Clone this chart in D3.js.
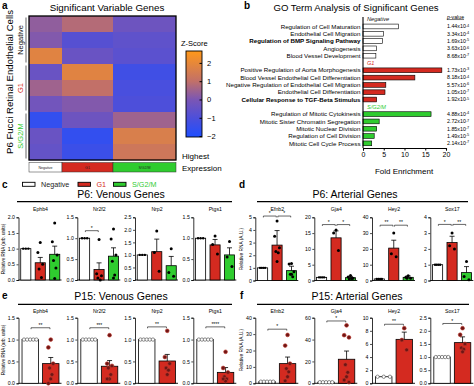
<!DOCTYPE html>
<html>
<head>
<meta charset="utf-8">
<script src="https://cdn.jsdelivr.net/npm/d3@7"></script>
<style>
  body { margin: 0; background: #fff; }
  svg { display: block; font-family: "Liberation Sans", Arial, sans-serif; }
</style>
</head>
<body>
<svg id="fig" width="474" height="386"></svg>
<script>
// ------------------------------------------------------------
// Data
// ------------------------------------------------------------
const cellGroups = ["Negative", "G1", "S/G2/M"];
const groupColors = { "Negative": "#ffffff", "G1": "#d42a20", "S/G2/M": "#2fcc2f" };
const groupText = { "Negative": "#111", "G1": "#d42a20", "S/G2/M": "#2fcc2f" };

// heatmap: 9 gene clusters (rows) x 3 cell groups (cols), z-scores
const heatRowGroup = ["Negative", "Negative", "Negative", "G1", "G1", "G1", "S/G2/M", "S/G2/M", "S/G2/M"];
const heatZ = [
  [0.3, 0.8, -0.3],
  [0.1, -0.8, -0.6],
  [1.8, -0.4, -0.7],
  [-0.4, 1.8, -1.3],
  [0.5, 1.0, -1.1],
  [-0.2, 0.1, -1.0],
  [-1.6, -0.3, 0.5],
  [-0.4, -1.6, 1.6],
  [-0.5, -1.4, 1.3]
];
const zTicks = [2, 1, 0, -1, -2];

// GO term analysis
const goTerms = [
  "Regulation of Cell Maturation", "Endothelial Cell Migration", "Regulation of BMP Signaling Pathway",
  "Angiogenesis", "Blood Vessel Development",
  "Positive Regulation of Aorta Morphogenesis", "Blood Vessel Endothelial Cell Differentiation",
  "Negative Regulation of Endothelial Cell Migration", "Endothelial Cell Differentiation",
  "Cellular Response to TGF-Beta Stimulus",
  "Regulation of Mitotic Cytokinesis", "Mitotic Sister Chromatin Segregation", "Mitotic Nuclear Division",
  "Regulation of Cell Division", "Mitotic Cell Cycle Process"
];
const goGroup = ["Negative", "Negative", "Negative", "Negative", "Negative", "G1", "G1", "G1", "G1", "G1",
  "S/G2/M", "S/G2/M", "S/G2/M", "S/G2/M", "S/G2/M"];
const goBold = ["Regulation of BMP Signaling Pathway", "Cellular Response to TGF-Beta Stimulus"];
const goFold = [8.6, 4.9, 4.7, 3.3, 3.1, 19.0, 12.5, 5.5, 5.3, 3.3, 16.4, 3.9, 3.3, 2.7, 2.1];
const goPMant = ["1.44", "3.34", "1.69", "3.63", "8.68", "1.73", "8.18", "5.57", "1.05", "1.92", "4.88", "2.72", "1.85", "1.49", "2.14"];
const goPExp = ["-4", "-4", "-5", "-6", "-7", "-3", "-4", "-6", "-7", "-5", "-4", "-7", "-7", "-5", "-7"];
const foldTicks = [0, 5, 10, 15, 20];

// qPCR panels
const venousGenes = ["Ephb4", "Nr2f2", "Nrp2", "Ptgs1"];
const arterialGenes = ["Efnb2", "Gja4", "Hey2", "Sox17"];

const p6VenousMax = [2.0, 1.5, 2.5, 1.5];
const p6VenousMean = [[1, 0.55, 0.82], [1, 0.25, 0.57], [1, 1.13, 0.57], [1, 0.84, 0.6]];
const p6VenousSem = [[0, 0.17, 0.26], [0, 0.16, 0.2], [0, 0.5, 0.37], [0, 0.13, 0.17]];
const p6VenousDots = [
  [[1, 1, 1], [1.2, 0.88, 0.5, 0.35, 0.08], [1.82, 1.22, 0.8, 0.62, 0.38, 0.05]],
  [[1, 1, 1], [0.97, 0.15, 0.1, 0.05, 0.0], [1.22, 0.98, 0.6, 0.45, 0.12, 0.05]],
  [[1, 1, 1], [1.95, 1.1, 0.35], [1.25, 0.3, 0.15]],
  [[1, 1, 1], [1.05, 0.85, 0.62], [0.92, 0.55, 0.32]]
];
const p6VenousSig = [[], [[0, 1, "*", 1.18]], [], []];

const p6ArterialMax = [5, 20, 40, 4];
const p6ArterialStep = [1, 5, 10, 1];
const p6ArterialMean = [[1, 2.8, 0.78], [1, 13.5, 0.9], [1, 20.5, 2.0], [1, 2.4, 0.5]];
const p6ArterialSem = [[0, 1.15, 0.35], [0, 2.2, 0.4], [0, 5.0, 0.9], [0, 0.4, 0.38]];
const p6ArterialDots = [
  [[1, 1, 1, 1], [4.7, 3.5, 2.6, 2.3, 2.2, 1.5], [1.35, 1.3, 0.7, 0.5, 0.3, 0.5]],
  [[1, 1, 1, 1], [16, 15, 9.5], [1.6, 1.1, 0.7, 0.5, 0.6]],
  [[1, 1, 1, 1], [30, 17, 15], [3, 2, 1.5, 1.5]],
  [[1, 1, 1, 1], [3.0, 2.2, 2.0], [1.2, 0.25, 0.05]]
];
const p6ArterialSig = [
  [[0, 1, "*", 5.1], [1, 2, "*", 5.1]],
  [[0, 1, "*", 17.7], [1, 2, "*", 17.7]],
  [[0, 1, "**", 35], [1, 2, "**", 35]],
  [[0, 1, "*", 3.55], [1, 2, "**", 3.55]]
];

const p15VenousMax = [1.5, 1.5, 1.5, 1.5];
const p15VenousMean = [[1, 0.45], [1, 0.39], [1, 0.51], [1, 0.25]];
const p15VenousSem = [[0, 0.14], [0, 0.13], [0, 0.15], [0, 0.11]];
const p15VenousDots = [
  [[1, 1, 1, 1, 1], [1.0, 0.82, 0.45, 0.35, 0.2, 0.1, 0.0]],
  [[1, 1, 1, 1, 1], [1.1, 0.45, 0.4, 0.35, 0.2, 0.1, 0.1]],
  [[1, 1, 1, 1, 1], [1.2, 0.6, 0.45, 0.35, 0.3, 0.2]],
  [[1, 1, 1, 1, 1], [0.72, 0.35, 0.25, 0.15, 0.1, 0.05, 0.1]]
];
const p15VenousSig = [[[0, 1, "**", 1.27]], [[0, 1, "***", 1.27]], [[0, 1, "**", 1.29]], [[0, 1, "****", 1.29]]];

const p15ArterialMax = [40, 60, 10, 2.5];
const p15ArterialStep = [10, 20, 2, 0.5];
const p15ArterialMean = [[1, 12], [1, 22], [1, 6.7], [1, 1.55]];
const p15ArterialSem = [[0, 4], [0, 7.5], [0, 1.1], [0, 0.22]];
const p15ArterialDots = [
  [[1, 1, 1, 1, 1], [29.5, 23, 12, 9, 7, 4, 1.5]],
  [[1, 1, 1, 1, 1], [53, 44, 42, 17, 10, 6, 3, 1]],
  [[1, 1, 1], [8.4, 6.6, 5.1]],
  [[1, 1, 1, 1, 1], [2.1, 1.85, 1.5, 1.35, 1.3, 1.2]]
];
const p15ArterialSig = [[[0, 1, "*", 33]], [[0, 1, "*", 57]], [[0, 1, "**", 9]], [[0, 1, "*", 2.28]]];

// ------------------------------------------------------------
// Setup
// ------------------------------------------------------------
const svg = d3.select("#fig");

function panelLetter(x, y, t) {
  svg.append("text").attr("x", x).attr("y", y).attr("font-size", 10)
    .attr("font-weight", "bold").text(t);
}

// ------------------------------------------------------------
// Panel a: heatmap
// ------------------------------------------------------------
panelLetter(2, 9, "a");
svg.append("text").attr("x", 107).attr("y", 11).attr("text-anchor", "middle")
  .attr("font-size", 9.8).text("Significant Variable Genes");

const zColor = d3.scaleLinear()
  .domain([-2.05, -1, 0, 1, 2.65])
  .range(["#1f4fff", "#4d4fda", "#7b56b4", "#c27068", "#ff981a"]);

// column widths like the original (Negative narrower)
const colEdges = { "Negative": [29, 62], "G1": [62, 113], "S/G2/M": [113, 176] };
const hy = d3.scaleBand().domain(d3.range(heatZ.length)).range([16, 160]);

const heat = svg.append("g");
heatZ.forEach((row, r) => {
  row.forEach((z, c) => {
    const [x0, x1] = colEdges[cellGroups[c]];
    heat.append("rect")
      .attr("x", x0).attr("y", hy(r))
      .attr("width", x1 - x0).attr("height", hy.bandwidth() + 0.3)
      .attr("fill", zColor(z));
  });
});
heat.append("rect").attr("x", 29).attr("y", 16).attr("width", 147).attr("height", 144)
  .attr("fill", "none").attr("stroke", "#000").attr("stroke-width", 1.3);

// cell group strip below heatmap
cellGroups.forEach(gname => {
  const [x0, x1] = colEdges[gname];
  svg.append("rect").attr("x", x0).attr("y", 162.5).attr("width", x1 - x0).attr("height", 9.5)
    .attr("fill", groupColors[gname]).attr("stroke", "#333").attr("stroke-width", 0.5);
  svg.append("text").attr("x", (x0 + x1) / 2).attr("y", 168.7).attr("text-anchor", "middle")
    .attr("font-size", 3.6).attr("fill", "#222").text(gname);
});

// row group labels and brackets
const rowGroupSpan = d3.rollup(heatRowGroup.map((g, i) => ({ g, i })), v => [d3.min(v, d => d.i), d3.max(v, d => d.i)], d => d.g);
rowGroupSpan.forEach(([i0, i1], gname) => {
  const y0 = hy(i0) + 1.5, y1 = hy(i1) + hy.bandwidth() - 1.5;
  svg.append("line").attr("x1", 26).attr("x2", 26).attr("y1", y0).attr("y2", y1)
    .attr("stroke", "#222").attr("stroke-width", 0.7);
  svg.append("text").attr("transform", `translate(23,${(y0 + y1) / 2}) rotate(-90)`)
    .attr("text-anchor", "middle").attr("font-size", 7.5).attr("fill", groupText[gname]).text(gname);
});
svg.append("text").attr("transform", "translate(13,82) rotate(-90)")
  .attr("text-anchor", "middle").attr("font-size", 9.6).text("P6 Fucci Retinal Endothelial Cells");

// colour bar
const zy = d3.scaleLinear().domain([-2.05, 2.65]).range([137, 51]);
const defs = svg.append("defs");
const grad = defs.append("linearGradient").attr("id", "zgrad")
  .attr("x1", 0).attr("y1", 1).attr("x2", 0).attr("y2", 0);
zColor.domain().forEach(v => {
  grad.append("stop").attr("offset", (v + 2.05) / 4.7).attr("stop-color", zColor(v));
});
svg.append("rect").attr("x", 186).attr("y", 51).attr("width", 16).attr("height", 86)
  .attr("fill", "url(#zgrad)").attr("stroke", "#000").attr("stroke-width", 0.9);
const zAxis = svg.append("g").attr("transform", "translate(202,0)")
  .call(d3.axisRight(zy).tickValues(zTicks).tickSize(-2.5).tickPadding(5).tickFormat(d3.format("d")));
zAxis.select(".domain").remove();
zAxis.selectAll("text").attr("font-size", 7.5).attr("font-family", "Liberation Sans, Arial");
svg.append("text").attr("x", 181).attr("y", 46).attr("font-size", 7.5).text("Z-Score");
svg.append("text").attr("x", 182).attr("y", 159).attr("font-size", 8).text("Highest");
svg.append("text").attr("x", 182).attr("y", 170.5).attr("font-size", 8).text("Expression");

// ------------------------------------------------------------
// Panel b: GO terms
// ------------------------------------------------------------
panelLetter(244, 9, "b");
svg.append("text").attr("x", 356).attr("y", 11).attr("text-anchor", "middle")
  .attr("font-size", 9.6).text("GO Term Analysis of Significant Genes");

const slots = [];
goTerms.forEach((t, i) => {
  if (i === 0 || goGroup[i] !== goGroup[i - 1]) slots.push("hdr-" + goGroup[i]);
  slots.push(t);
});
const gy = d3.scaleBand().domain(slots).range([15.5, 147]).paddingInner(0.35).paddingOuter(0.175);
const gx = d3.scaleLinear().domain([0, 20]).range([363, 446]);

const goG = svg.append("g");
goTerms.forEach((t, i) => {
  goG.append("rect").attr("x", gx(0)).attr("y", gy(t))
    .attr("width", gx(goFold[i]) - gx(0)).attr("height", gy.bandwidth())
    .attr("fill", groupColors[goGroup[i]]).attr("stroke", "#000").attr("stroke-width", 0.6);
  goG.append("text").attr("x", 360.5).attr("y", gy(t) + gy.bandwidth() / 2)
    .attr("dy", "0.35em").attr("text-anchor", "end").attr("font-size", 6.2)
    .attr("font-weight", goBold.includes(t) ? "bold" : "normal").text(t);
  const pv = goG.append("text").attr("x", 447).attr("y", gy(t) + gy.bandwidth() / 2)
    .attr("dy", "0.35em").attr("font-size", 5.3);
  pv.append("tspan").text(goPMant[i] + "x10");
  pv.append("tspan").attr("dy", "-0.45em").attr("font-size", 3.8).text(goPExp[i]);
});
cellGroups.forEach(gname => {
  const s = "hdr-" + gname;
  goG.append("text").attr("x", 367).attr("y", gy(s) + gy.bandwidth() / 2).attr("dy", "0.35em")
    .attr("font-size", 5.6).attr("font-style", "italic").attr("fill", groupText[gname]).text(gname);
});
goG.append("text").attr("x", 447).attr("y", 18.5).attr("font-size", 5.2)
  .attr("text-decoration", "underline").html("<tspan font-style='italic'>p</tspan>-value");

const gAxis = svg.append("g").attr("transform", "translate(0,148)")
  .call(d3.axisBottom(gx).tickValues(foldTicks).tickSize(2.5).tickPadding(2));
gAxis.selectAll("text").attr("font-size", 7).attr("font-family", "Liberation Sans, Arial");
gAxis.select(".domain").attr("stroke-width", 1.1);
svg.append("line").attr("x1", gx(0)).attr("x2", gx(0)).attr("y1", 17).attr("y2", 148)
  .attr("stroke", "#000").attr("stroke-width", 1.1);
svg.append("text").attr("x", 404).attr("y", 174).attr("text-anchor", "middle")
  .attr("font-size", 8).text("Fold Enrichment");

// ------------------------------------------------------------
// Legend (panel c)
// ------------------------------------------------------------
panelLetter(2, 188, "c");
const legX = [22.5, 78, 113.5];
cellGroups.forEach((gname, i) => {
  svg.append("rect").attr("x", legX[i]).attr("y", 182.3).attr("width", 12.5).attr("height", 4)
    .attr("fill", groupColors[gname]).attr("stroke", "#000").attr("stroke-width", 0.9);
  svg.append("text").attr("x", legX[i] + 18.5).attr("y", 186.8).attr("font-size", 7.2)
    .attr("fill", i === 0 ? "#222" : groupText[gname]).text(gname);
});

// ------------------------------------------------------------
// Bar/dot subplots
// ------------------------------------------------------------
const dotOffsets = [0, -2.4, 2.4, -1.2, 1.2, 0, -2.4, 2.4];

function sectionTitle(cx, y, lineX0, lineX1, lineY, txt) {
  svg.append("text").attr("x", cx).attr("y", y).attr("text-anchor", "middle")
    .attr("font-size", 10.5).text(txt);
  svg.append("line").attr("x1", lineX0).attr("x2", lineX1).attr("y1", lineY).attr("y2", lineY)
    .attr("stroke", "#000").attr("stroke-width", 1.2);
}

function drawSubplot({ ax, yBottom, yTop, max, step, decimals, gene, geneY, groups, means, sems, dots, sig, p15 }) {
  const g = svg.append("g");
  const y = d3.scaleLinear().domain([0, max]).range([yBottom, yTop]);
  const x = d3.scaleBand().domain(groups).range(p15 ? [ax + 2.5, ax + 41.5] : [ax + 1.5, ax + 42])
    .paddingInner(p15 ? 0.2 : 0.3).paddingOuter(0.05);

  const ticks = d3.range(0, max + step / 2, step);
  const yAxis = g.append("g").attr("transform", `translate(${ax},0)`)
    .call(d3.axisLeft(y).tickValues(ticks).tickSize(2).tickPadding(1.5)
      .tickFormat(d3.format(decimals ? ".1f" : "d")));
  yAxis.selectAll("text").attr("font-size", 5.2).attr("font-family", "Liberation Sans, Arial");
  yAxis.select(".domain").attr("stroke-width", 0.8);
  yAxis.selectAll(".tick line").attr("stroke-width", 0.7);
  g.append("line").attr("x1", ax).attr("x2", ax + 43).attr("y1", yBottom).attr("y2", yBottom)
    .attr("stroke", "#000").attr("stroke-width", 0.9);

  g.append("text").attr("x", ax + 22).attr("y", geneY).attr("text-anchor", "middle")
    .attr("font-size", 5.2).text(gene);

  groups.forEach((gname, i) => {
    const bx = x(gname), bw = x.bandwidth(), cx = bx + bw / 2;
    g.append("rect").attr("x", bx).attr("y", y(means[i])).attr("width", bw)
      .attr("height", yBottom - y(means[i]))
      .attr("fill", groupColors[gname]).attr("stroke", "#000").attr("stroke-width", 0.8);
    if (sems[i] > 0) {
      const ye = y(means[i] + sems[i]);
      g.append("line").attr("x1", cx).attr("x2", cx).attr("y1", y(means[i])).attr("y2", ye)
        .attr("stroke", "#000").attr("stroke-width", 0.8);
      g.append("line").attr("x1", cx - 2.5).attr("x2", cx + 2.5).attr("y1", ye).attr("y2", ye)
        .attr("stroke", "#000").attr("stroke-width", 0.8);
    }
    const vals = dots[i];
    if (i === 0) {
      // reference group: dots sitting at 1 along the bar top
      const n = vals.length;
      const spread = p15 ? bw - 4 : bw - 5;
      vals.forEach((v, k) => {
        const dx = n > 1 ? -spread / 2 + spread * k / (n - 1) : 0;
        g.append("circle").attr("cx", cx + dx).attr("cy", y(v)).attr("r", p15 ? 1.7 : 1.2)
          .attr("fill", p15 ? "#fff" : "#000").attr("stroke", p15 ? "#444" : "none")
          .attr("stroke-width", 0.6);
      });
    } else {
      vals.forEach((v, k) => {
        g.append("circle").attr("cx", cx + dotOffsets[k % dotOffsets.length]).attr("cy", y(v))
          .attr("r", p15 ? 1.9 : 1.5)
          .attr("fill", p15 ? "#6e1515" : "#000")
          .attr("stroke", p15 ? "#c0392b" : "none").attr("stroke-width", 0.6);
      });
    }
  });

  sig.forEach(([a, b, stars, v]) => {
    const x0 = x(groups[a]) + x.bandwidth() / 2, x1 = x(groups[b]) + x.bandwidth() / 2;
    const yy = y(v);
    const inset = 0.8;
    g.append("path")
      .attr("d", `M${x0 + inset},${yy + 1.4}V${yy}H${x1 - inset}V${yy + 1.4}`)
      .attr("fill", "none").attr("stroke", "#000").attr("stroke-width", 0.6);
    g.append("text").attr("x", (x0 + x1) / 2).attr("y", yy - 0.8).attr("text-anchor", "middle")
      .attr("font-size", 5).text(stars);
  });
}

const leftAxes = [18.5, 77.3, 135, 193.3];
const rightAxes = [255.3, 314.3, 372, 430.3];

// c: P6 venous
sectionTitle(121, 197.5, 17, 232, 201.6, "P6: Venous Genes");
venousGenes.forEach((gene, i) => drawSubplot({
  ax: leftAxes[i], yBottom: 280, yTop: 217.3, max: p6VenousMax[i], step: 0.5, decimals: true,
  gene, geneY: 211, groups: cellGroups, means: p6VenousMean[i], sems: p6VenousSem[i],
  dots: p6VenousDots[i], sig: p6VenousSig[i], p15: false
}));
svg.append("text").attr("transform", "translate(5,249) rotate(-90)").attr("text-anchor", "middle")
  .attr("font-size", 4.6).text("Relative RNA (arb. units)");

// d: P6 arterial
panelLetter(239, 188, "d");
sectionTitle(355, 197.5, 257, 468, 201.6, "P6: Arterial Genes");
arterialGenes.forEach((gene, i) => drawSubplot({
  ax: rightAxes[i], yBottom: 280.5, yTop: 217.3, max: p6ArterialMax[i], step: p6ArterialStep[i], decimals: false,
  gene, geneY: 211, groups: cellGroups, means: p6ArterialMean[i], sems: p6ArterialSem[i],
  dots: p6ArterialDots[i], sig: p6ArterialSig[i], p15: false
}));
svg.append("text").attr("transform", "translate(243,249) rotate(-90)").attr("text-anchor", "middle")
  .attr("font-size", 4.8).text("Relative RNA (A.U.)");

// e: P15 venous
const p15Groups = ["Negative", "G1"];
panelLetter(2, 299, "e");
sectionTitle(121, 299.5, 18, 232, 304.3, "P15: Venous Genes");
venousGenes.forEach((gene, i) => drawSubplot({
  ax: leftAxes[i], yBottom: 383.3, yTop: 317.7, max: p15VenousMax[i], step: 0.5, decimals: true,
  gene, geneY: 313, groups: p15Groups, means: p15VenousMean[i], sems: p15VenousSem[i],
  dots: p15VenousDots[i], sig: p15VenousSig[i], p15: true
}));
svg.append("text").attr("transform", "translate(5,350) rotate(-90)").attr("text-anchor", "middle")
  .attr("font-size", 4.6).text("Relative RNA (arb. units)");

// f: P15 arterial
panelLetter(240, 299, "f");
sectionTitle(357, 299.5, 257, 469, 304.3, "P15: Arterial Genes");
arterialGenes.forEach((gene, i) => drawSubplot({
  ax: rightAxes[i], yBottom: 383.3, yTop: 317.7, max: p15ArterialMax[i], step: p15ArterialStep[i],
  decimals: i === 3, gene, geneY: 313, groups: p15Groups, means: p15ArterialMean[i],
  sems: p15ArterialSem[i], dots: p15ArterialDots[i], sig: p15ArterialSig[i], p15: true
}));
svg.append("text").attr("transform", "translate(243,350) rotate(-90)").attr("text-anchor", "middle")
  .attr("font-size", 4.8).text("Relative RNA (A.U.)");
</script>
</body>
</html>
